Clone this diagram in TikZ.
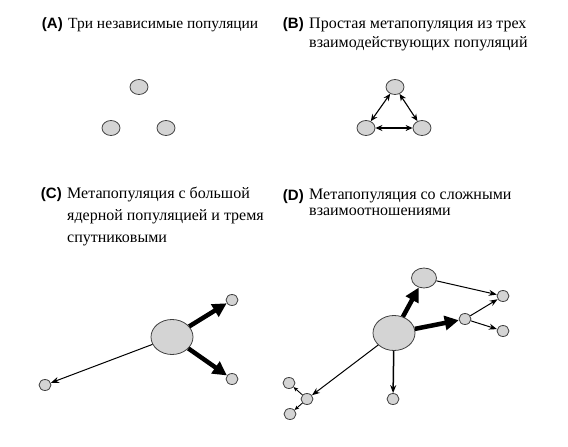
\documentclass[tikz,border=0pt]{standalone}
\usepackage{fontspec}
\setmainfont{Liberation Serif}
\newfontfamily\labelfont{Liberation Sans}
\usetikzlibrary{arrows.meta, shapes.geometric, positioning}

\begin{document}
\begin{tikzpicture}[x=1pt, y=-1pt,
    pop/.style={ellipse, draw=black!75, fill=black!17, line width=0.8pt, inner sep=0pt, minimum width=18pt, minimum height=15pt},
    tiny/.style={pop, minimum width=12pt, minimum height=11pt},
    mid/.style={pop, minimum width=25pt, minimum height=20pt},
    core/.style={pop, minimum width=42pt, minimum height=35pt},
    thin/.style={-{Stealth[length=8pt, width=6pt]}, line width=1pt},
    heavy/.style={-{Triangle[length=14pt, width=14pt]}, line width=4.5pt},
    twoway/.style={{Stealth[length=7pt, width=6pt]}-{Stealth[length=7pt, width=6pt]}, line width=1.1pt},
    panel/.style={font=\labelfont\bfseries\fontsize{15}{15}\selectfont, anchor=base east, inner sep=0pt},
    caption/.style={anchor=base west, align=left, inner sep=0pt, font=\fontsize{16}{19}\selectfont}]
    \useasboundingbox (0,0) rectangle (568,447);

    % (A) three independent populations
    \node[caption, font=\fontsize{15.5}{19}\selectfont] (ta) at (68,28) {Три независимые популяции};
    \node[panel, left=5pt of ta.base west, anchor=base east] (la) {(A)};
    \foreach \n/\x/\y in {a1/139/87, a2/111/128, a3/166/128}
        \node[pop] (\n) at (\x,\y) {};

    % (B) simple metapopulation (anchored on last line)
    \node[caption] (tb) at (309,47) {Простая метапопуляция из трех\\взаимодействующих популяций};
    \node[panel] (lb) at (304,28) {(B)};
    \foreach \n/\x/\y in {b1/395/87, b2/366/128, b3/422/128}
        \node[pop] (\n) at (\x,\y) {};
    \draw[twoway] (b1) -- (b2);
    \draw[twoway] (b1) -- (b3);
    \draw[twoway] (b2) -- (b3);

    % (C) large core with three satellites
    \node[caption, font=\fontsize{16}{22}\selectfont] (tc) at (67,242) {Метапопуляция с большой\\ядерной популяцией и тремя\\спутниковыми};
    \node[panel] (lc) at (62,198) {(C)};
    \node[core] (c0) at (172,337) {};
    \node[tiny] (c1) at (232,300) {};
    \node[tiny] (c2) at (232,379) {};
    \node[tiny] (c3) at (45,385) {};
    \draw[heavy] (c0) -- (c1);
    \draw[heavy] (c0) -- (c2);
    \draw[thin] (c0) -- (c3);

    % (D) complex relationships
    \node[caption, font=\fontsize{16}{15.5}\selectfont] (td) at (309,215) {Метапопуляция со сложными\\взаимоотношениями};
    \node[panel] (ld) at (304,200) {(D)};
    \node[core] (d0) at (394,333) {};
    \node[mid] (d1) at (424,278) {};
    \node[tiny] (d2) at (465,319) {};
    \node[tiny] (d3) at (503,296) {};
    \node[tiny] (d4) at (503,331) {};
    \node[tiny] (d5) at (393,399) {};
    \node[tiny] (d6) at (307,399) {};
    \node[tiny] (d7) at (289,383) {};
    \node[tiny] (d8) at (290,414) {};
    \draw[heavy] (d0) -- (d1);
    \draw[heavy] (d0) -- (d2);
    \draw[thin] (d1) -- (d3);
    \draw[thin] (d2) -- (d3);
    \draw[thin] (d2) -- (d4);
    \draw[thin, line width=1.5pt] (d0) -- (d5);
    \draw[thin] (d0) -- (d6);
    \draw[-{Stealth[length=4.5pt, width=4pt]}, line width=0.9pt] (d6) -- (d7);
    \draw[-{Stealth[length=4.5pt, width=4pt]}, line width=0.9pt] (d6) -- (d8);
\end{tikzpicture}
\end{document}
